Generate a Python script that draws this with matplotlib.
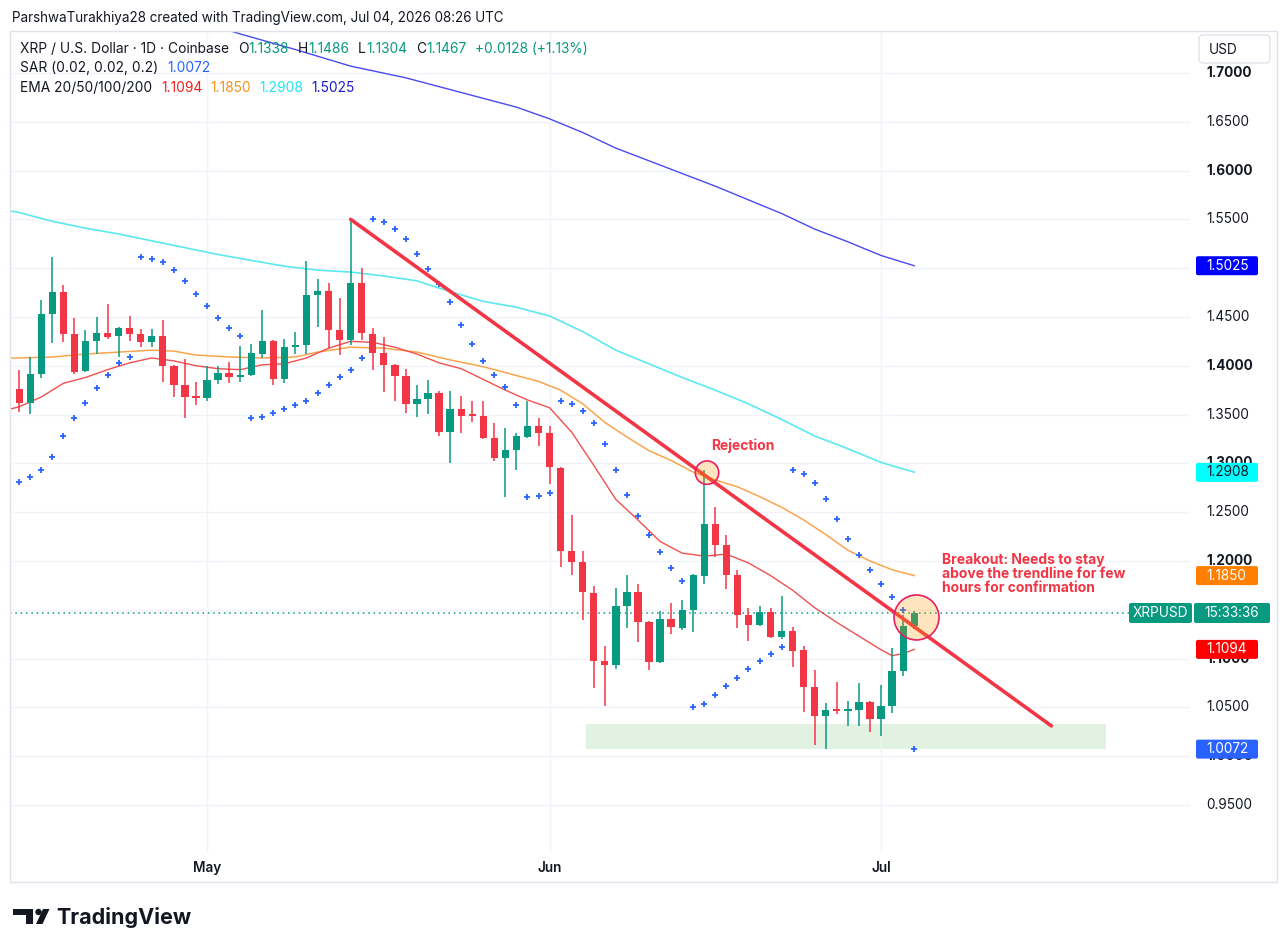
# XRP/USD daily chart, TradingView style
import numpy as np
import pandas as pd
import matplotlib
matplotlib.use('Agg')
import matplotlib.pyplot as plt
from matplotlib.patches import Ellipse, Rectangle, FancyBboxPatch, Polygon, Circle

plt.rcParams['font.family'] = ['Inter', 'DejaVu Sans']

W, H = 1288, 952
ORIGIN = pd.Timestamp('2026-05-01')
GREEN = '#089981'
RED = '#f23645'
DARK = '#131722'

# ---- candles (Apr 14 .. Jul 4) ----
dates = pd.date_range('2026-04-14', '2026-07-04', freq='D')
opens = [1.376, 1.362, 1.392, 1.453, 1.476, 1.433, 1.395, 1.425, 1.434, 1.430, 1.439, 1.433, 1.424, 1.431, 1.400, 1.380, 1.369,
         1.367, 1.385, 1.393, 1.388, 1.391, 1.412, 1.425, 1.386, 1.419, 1.421, 1.473, 1.477, 1.437, 1.426, 1.485, 1.433,
         1.413, 1.401, 1.389, 1.361, 1.366, 1.372, 1.332, 1.356, 1.351, 1.349, 1.326, 1.305, 1.314, 1.327, 1.338,
         1.331, 1.295, 1.210, 1.199, 1.167, 1.098, 1.093, 1.154, 1.168, 1.137, 1.096, 1.141, 1.131, 1.150, 1.185,
         1.238, 1.216, 1.186, 1.145, 1.134, 1.148, 1.122, 1.128, 1.109, 1.071, 1.041, 1.048, 1.046, 1.047, 1.056,
         1.038, 1.051, 1.087, 1.1338]
highs = [1.396, 1.409, 1.467, 1.511, 1.483, 1.449, 1.437, 1.450, 1.463, 1.440, 1.451, 1.438, 1.438, 1.447, 1.401, 1.407, 1.383,
         1.400, 1.400, 1.404, 1.420, 1.422, 1.457, 1.426, 1.427, 1.435, 1.507, 1.489, 1.485, 1.469, 1.550, 1.500, 1.439,
         1.429, 1.402, 1.397, 1.380, 1.385, 1.374, 1.374, 1.369, 1.364, 1.364, 1.341, 1.336, 1.331, 1.364, 1.346,
         1.338, 1.296, 1.247, 1.210, 1.174, 1.113, 1.172, 1.186, 1.176, 1.138, 1.149, 1.157, 1.160, 1.187, 1.293,
         1.255, 1.227, 1.191, 1.152, 1.154, 1.152, 1.164, 1.132, 1.113, 1.088, 1.054, 1.076, 1.057, 1.075, 1.057,
         1.073, 1.111, 1.145, 1.1486]
lows = [1.353, 1.351, 1.387, 1.423, 1.424, 1.392, 1.394, 1.412, 1.427, 1.409, 1.425, 1.419, 1.419, 1.383, 1.368, 1.346, 1.360,
        1.364, 1.381, 1.382, 1.383, 1.390, 1.408, 1.380, 1.382, 1.412, 1.412, 1.440, 1.418, 1.411, 1.421, 1.426, 1.396,
        1.373, 1.364, 1.352, 1.347, 1.351, 1.328, 1.300, 1.331, 1.342, 1.325, 1.302, 1.266, 1.293, 1.326, 1.318,
        1.279, 1.194, 1.186, 1.140, 1.070, 1.051, 1.089, 1.131, 1.117, 1.088, 1.095, 1.125, 1.129, 1.127, 1.176,
        1.204, 1.171, 1.131, 1.118, 1.133, 1.121, 1.120, 1.091, 1.045, 1.011, 1.007, 1.043, 1.031, 1.031, 1.025,
        1.021, 1.044, 1.082, 1.1304]
closes = [1.362, 1.392, 1.453, 1.476, 1.433, 1.394, 1.425, 1.434, 1.429, 1.439, 1.433, 1.424, 1.431, 1.400, 1.380, 1.368, 1.367,
          1.385, 1.393, 1.388, 1.391, 1.413, 1.425, 1.386, 1.419, 1.421, 1.473, 1.477, 1.437, 1.426, 1.485, 1.434, 1.413,
          1.401, 1.389, 1.361, 1.366, 1.372, 1.332, 1.356, 1.349, 1.349, 1.326, 1.305, 1.314, 1.328, 1.338, 1.331,
          1.296, 1.210, 1.199, 1.168, 1.098, 1.093, 1.154, 1.168, 1.137, 1.096, 1.141, 1.132, 1.150, 1.186, 1.238,
          1.216, 1.186, 1.145, 1.134, 1.148, 1.122, 1.128, 1.108, 1.071, 1.041, 1.047, 1.046, 1.048, 1.056, 1.038,
          1.051, 1.087, 1.133, 1.1467]
sar = [1.281, 1.286, 1.293, 1.307, 1.328, 1.346, 1.362, 1.377, 1.391, 1.403, 1.409, 1.511, 1.509, 1.506, 1.498, 1.487, 1.474,
       1.461, 1.449, 1.439, 1.430, 1.346, 1.347, 1.352, 1.356, 1.360, 1.364, 1.372, 1.380, 1.388, 1.396, 1.408, 1.550,
       1.547, 1.540, 1.530, 1.515, 1.499, 1.484, 1.465, 1.442, 1.422, 1.405, 1.391, 1.378, 1.360, 1.266, 1.267,
       1.270, 1.364, 1.361, 1.354, 1.341, 1.320, 1.293, 1.268, 1.246, 1.227, 1.209, 1.193, 1.179, 1.050, 1.053,
       1.063, 1.072, 1.080, 1.089, 1.097, 1.105, 1.112, 1.293, 1.289, 1.280, 1.263, 1.243, 1.223, 1.206, 1.191,
       1.176, 1.163, 1.150, 1.0072]

# ---- EMA readings (day offset from May 1, value) ----
ema20_days = [-18, -17, -15, -13, -11, -9, -7, -5, -3, -1, 1, 3, 5, 7, 9, 11, 13, 15, 17, 19, 21, 23, 25, 27, 29,
              31, 33, 35, 37, 39, 41, 43, 45, 47, 49, 51, 53, 55, 57, 59, 61, 62, 63, 64]
ema20_vals = [1.355, 1.358, 1.368, 1.382, 1.388, 1.396, 1.403, 1.408, 1.405, 1.400, 1.397, 1.396, 1.401, 1.402, 1.408,
              1.418, 1.425, 1.424, 1.419, 1.412, 1.403, 1.397, 1.386, 1.375, 1.365, 1.357, 1.332, 1.298, 1.263, 1.242,
              1.220, 1.208, 1.205, 1.207, 1.198, 1.185, 1.170, 1.152, 1.137, 1.123, 1.109, 1.103, 1.105, 1.1094]
ema50_days = [-18, -17, -14, -11, -8, -5, -3, -1, 2, 5, 8, 10, 13, 16, 19, 22, 25, 28, 30, 32, 34, 36, 38, 40, 42,
              44, 46, 48, 50, 52, 54, 56, 58, 60, 62, 64]
ema50_vals = [1.408, 1.408, 1.409, 1.412, 1.414, 1.416, 1.415, 1.411, 1.409, 1.408, 1.409, 1.414, 1.419, 1.418, 1.414,
              1.406, 1.399, 1.390, 1.384, 1.375, 1.361, 1.342, 1.327, 1.313, 1.303, 1.291, 1.283, 1.276, 1.266, 1.255,
              1.242, 1.227, 1.211, 1.200, 1.191, 1.185]
ema100_days = [-18, -17, -14, -11, -8, -5, -2, 1, 4, 7, 10, 13, 16, 19, 22, 25, 28, 31, 34, 37, 40, 43, 46, 49,
               52, 55, 58, 61, 64]
ema100_vals = [1.559, 1.557, 1.548, 1.541, 1.535, 1.528, 1.521, 1.514, 1.508, 1.502, 1.498, 1.496, 1.492, 1.487,
               1.476, 1.466, 1.460, 1.451, 1.435, 1.416, 1.402, 1.388, 1.375, 1.361, 1.345, 1.328, 1.315, 1.301, 1.291]
ema200_days = [1, 3, 8, 13, 18, 23, 28, 31, 34, 37, 40, 43, 46, 49, 52, 55, 58, 61, 64]
ema200_vals = [1.747, 1.740, 1.724, 1.707, 1.695, 1.680, 1.665, 1.653, 1.639, 1.623, 1.610, 1.597, 1.584, 1.570,
               1.556, 1.540, 1.527, 1.513, 1.5025]

# ---- drawings ----
trend_dates = ['2026-05-14', '2026-07-16 10:00']
trend_prices = [1.550, 1.031]
zone_dates = ['2026-06-04 07:00', '2026-07-21 09:00']
zone_prices = [1.0074, 1.0330]
reject_date, reject_price = '2026-06-15 06:00', 1.2905
breakout_date, breakout_price = '2026-07-04 05:00', 1.1421

price_ticks = [0.95, 1.00, 1.05, 1.10, 1.15, 1.20, 1.25, 1.30, 1.35, 1.40, 1.45, 1.50, 1.55, 1.60, 1.65, 1.70]
hidden_ticks = [1.15, 1.50]   # fully covered by value labels in the source
month_starts = ['2026-05-01', '2026-06-01', '2026-07-01']
month_labels = ['May', 'Jun', 'Jul']

value_labels = [(1.5025, '1.5025', '#0000ff', 'white'),
                (1.2908, '1.2908', '#00ffff', DARK),
                (1.1850, '1.1850', '#ff7f00', 'white'),
                (1.1094, '1.1094', '#ff0000', 'white'),
                (1.0072, '1.0072', '#2962ff', 'white')]


def day(d):
    return (pd.Timestamp(d) - ORIGIN) / pd.Timedelta(days=1)


fig = plt.figure(figsize=(W / 100, H / 100), dpi=100)
ax = fig.add_axes([10 / W, 1 - 852 / H, 1180 / W, (852 - 31) / H])
ax.set_xlim(-17.83, 88.96)
ax.set_ylim(0.9018, 1.7430)
ax.set_yticks(price_ticks)
ax.set_xticks([day(m) for m in month_starts])
ax.grid(True, color='#f0f3fa', lw=1)
ax.tick_params(length=0, labelleft=False, labelbottom=False)
for s in ax.spines.values():
    s.set_visible(False)

x = np.array([(d - ORIGIN).days for d in dates], dtype=float)
o, h, l, c = map(np.array, (opens, highs, lows, closes))
cols = np.where(c >= o, GREEN, RED)

zone = Rectangle((day(zone_dates[0]), zone_prices[0]), day(zone_dates[1]) - day(zone_dates[0]),
                 zone_prices[1] - zone_prices[0], fc='#4caf50', alpha=0.16, ec='none', zorder=1)
ax.add_patch(zone)

ax.plot(ema200_days, ema200_vals, color='#4a4af0', lw=1, zorder=2)
ax.plot(ema100_days, ema100_vals, color='#5ce8f0', lw=1.2, zorder=2)
ax.plot(ema50_days, ema50_vals, color='#f9a54c', lw=1.1, zorder=2)
ax.plot(ema20_days, ema20_vals, color='#f0504f', lw=1, zorder=2)

ax.axhline(closes[-1], color=GREEN, lw=1.1, ls=(0, (1, 2.5)), zorder=2)

ax.vlines(x, l, h, colors=cols, lw=1.1, zorder=3)
ax.bar(x, np.maximum(np.abs(c - o), 0.0013), bottom=np.minimum(o, c), width=0.66,
       color=cols, zorder=4)

ax.plot(x, sar, ls='none', marker='+', ms=4.2, mew=1.3, color='#2962ff', zorder=5)

ax.plot([day(d) for d in trend_dates], trend_prices, color=RED, lw=2.6,
        solid_capstyle='round', zorder=6)

for dd, pp, wd, hp in [(reject_date, reject_price, 2.12, 0.0240),
                       (breakout_date, breakout_price, 4.07, 0.0461)]:
    ax.add_patch(Ellipse((day(dd), pp), wd, hp, fc='#ff9800', alpha=0.25, ec='none', zorder=7))
    ax.add_patch(Ellipse((day(dd), pp), wd, hp, fc='none', ec='#e91e63', lw=1.2, zorder=7))

ax.text(day(reject_date) + 3.2, reject_price + 0.028, 'Rejection', color=RED, fontsize=10,
        fontweight='bold', ha='center', va='center', zorder=8)
ax.text(day(breakout_date) + 2.3, breakout_price + 0.066,
        'Breakout: Needs to stay\nabove the trendline for few\nhours for confirmation',
        color=RED, fontsize=10, fontweight='bold', ha='left', va='top', linespacing=1.0, zorder=8)

# ---- overlay in pixel space for axes labels, header and logo ----
ov = fig.add_axes([0, 0, 1, 1], zorder=5)
ov.set_xlim(0, W)
ov.set_ylim(H, 0)
ov.axis('off')
ov.patch.set_alpha(0)


def ypx(p):
    return H - ax.transData.transform((0, p))[1]


def xpx(d):
    return ax.transData.transform((d, 0))[0]


ov.add_patch(Rectangle((10, 31), 1267, 851, fill=False, ec='#e0e3eb', lw=1))
ov.add_patch(FancyBboxPatch((1199, 35), 71, 28, boxstyle='round,pad=0,rounding_size=4',
                            fc='white', ec='#e0e3eb', lw=1))
ov.text(1209, 49.5, 'USD', fontsize=9.8, color=DARK, va='center', ha='left')

for p in price_ticks:
    if any(abs(p - q) < 1e-9 for q in hidden_ticks):
        continue
    bold = abs(round(p * 10) - p * 10) < 1e-6
    ov.text(1206, ypx(p), f'{p:.4f}', fontsize=9.8, color=DARK, va='center', ha='left',
            fontweight='bold' if bold else 'normal')

for p, s, bg, fg in value_labels:
    yy = ypx(p)
    ov.add_patch(FancyBboxPatch((1196, yy - 9.5), 62, 19, boxstyle='round,pad=0,rounding_size=2',
                                fc=bg, ec='none', zorder=3))
    ov.text(1206, yy, s, fontsize=9.8, color=fg, va='center', ha='left', zorder=4)

yy = ypx(closes[-1])
ov.add_patch(FancyBboxPatch((1129, yy - 10), 63, 20, boxstyle='round,pad=0,rounding_size=2',
                            fc=GREEN, ec='none', zorder=3))
ov.add_patch(FancyBboxPatch((1194, yy - 10), 76, 20, boxstyle='round,pad=0,rounding_size=2',
                            fc=GREEN, ec='none', zorder=3))
ov.text(1160.5, yy, 'XRPUSD', fontsize=9.8, color='white', va='center', ha='center', zorder=4)
ov.text(1232, yy, '15:33:36', fontsize=9.8, color='white', va='center', ha='center', zorder=4)

for m, lab in zip(month_starts, month_labels):
    ov.text(xpx(day(m)), 868, lab, fontsize=9.8, color=DARK, fontweight='semibold',
            va='center', ha='center')

renderer = fig.canvas.get_renderer()


def colored_line(x0, y0, parts, size=9.9):
    for s, col, gap in parts:
        t = ov.text(x0, y0, s, fontsize=size, color=col, va='center', ha='left')
        x0 += t.get_window_extent(renderer=renderer).width + gap


ov.text(12, 18, 'ParshwaTurakhiya28 created with TradingView.com, Jul 04, 2026 08:26 UTC',
        fontsize=9.7, color=DARK, va='center', ha='left')
colored_line(20, 49, [('XRP / U.S. Dollar · 1D · Coinbase', DARK, 9), ('O', DARK, 0),
                      ('1.1338', GREEN, 9), ('H', DARK, 0), ('1.1486', GREEN, 9),
                      ('L', DARK, 0), ('1.1304', GREEN, 9), ('C', DARK, 0),
                      ('1.1467', GREEN, 9), ('+0.0128 (+1.13%)', GREEN, 0)])
colored_line(20, 68, [('SAR (0.02, 0.02, 0.2)', DARK, 9), ('1.0072', '#2962ff', 0)])
colored_line(20, 88, [('EMA 20/50/100/200', DARK, 9), ('1.1094', '#f21d1d', 8),
                      ('1.1850', '#f7931a', 8), ('1.2908', '#22e3f0', 8), ('1.5025', '#1a1ad0', 0)])

# TradingView logo
ov.add_patch(Polygon([(13, 909), (33, 909), (33, 924), (26, 924), (26, 915), (13, 915)],
                     closed=True, fc=DARK, ec='none'))
ov.add_patch(Circle((38.5, 912), 3.2, fc=DARK, ec='none'))
ov.add_patch(Polygon([(36, 924), (43, 909), (49.5, 909), (42.5, 924)], closed=True, fc=DARK, ec='none'))
ov.text(56, 917, 'TradingView', fontsize=15.5, fontweight='bold', color=DARK, va='center', ha='left')

fig.savefig('out.png', dpi=100, facecolor='white')
